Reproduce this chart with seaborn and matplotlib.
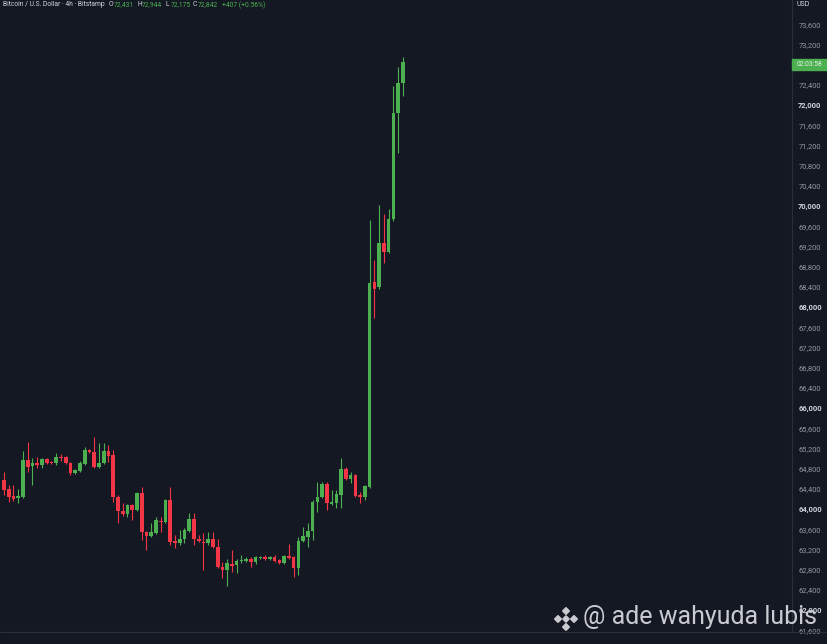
import numpy as np
import pandas as pd
import seaborn as sns
import matplotlib.pyplot as plt
from matplotlib.patches import Polygon, Rectangle

# 4h BTC/USD candles (open, high, low, close)
opens = [64574, 64396, 64257, 64218, 64238, 64970, 64851, 64911, 64871, 64990,
         64931, 64911, 65030, 65030, 64911, 64713, 64752, 64891, 65168, 65129,
         64832, 64911, 65148, 65069, 64238, 63960, 63901, 64079, 63980, 64317,
         63545, 63465, 63525, 63762, 63743, 64178, 63366, 63327, 63406, 63564,
         63802, 63406, 63347, 63327, 63406, 63248, 62852, 62792, 62911, 62891,
         62970, 62970, 63010, 62951, 63030, 63050, 63010, 63050, 62990, 62931,
         63069, 63050, 62832, 63366, 63446, 63564, 64139, 64238, 64495, 64099,
         64119, 64277, 64792, 64594, 64673, 64277, 64238, 64436, 68495, 68396,
         69267, 69089, 69742, 71841, 72431]
highs = [64733, 64475, 64475, 64396, 65148, 65327, 65010, 65030, 65010, 65010,
         64960, 65109, 65089, 65050, 64930, 64790, 64950, 65228, 65180, 65426,
         65307, 65307, 65267, 65168, 64277, 64119, 64100, 64100, 64337, 64436,
         63560, 63723, 63842, 63842, 64200, 64436, 63485, 63584, 63624, 63921,
         63921, 63485, 63525, 63545, 63545, 63406, 62951, 63010, 63188, 63010,
         63089, 63050, 63050, 63069, 63070, 63089, 63070, 63089, 63010, 63089,
         63307, 63069, 63446, 63644, 63723, 64178, 64535, 64535, 64535, 64376,
         64376, 65010, 64832, 64733, 64690, 64337, 64475, 69722, 68930, 70019,
         69841, 69940, 72375, 72752, 72944]
lows = [64277, 64139, 64158, 64119, 64220, 64733, 64475, 64812, 64812, 64891,
        64890, 64871, 64950, 64890, 64673, 64690, 64733, 64871, 65110, 64812,
        64820, 64900, 64931, 64139, 63723, 63861, 63842, 63782, 63970, 63386,
        63188, 63450, 63510, 63545, 63730, 63287, 63228, 63287, 63327, 63545,
        63287, 63347, 62792, 63287, 63230, 62830, 62634, 62475, 62753, 62733,
        62931, 62950, 62852, 62911, 63010, 62990, 62990, 62951, 62911, 62911,
        63010, 62654, 62693, 63350, 63248, 63386, 63941, 64218, 63980, 64079,
        64020, 64020, 64574, 64515, 64238, 64119, 64178, 64416, 67782, 68356,
        68871, 69069, 69702, 71049, 72175]
closes = [64376, 64238, 64198, 64257, 64970, 64832, 64911, 64871, 64990, 64911,
          64911, 65030, 65010, 64911, 64713, 64772, 64911, 65168, 65129, 64832,
          64911, 65148, 65049, 64238, 63960, 63901, 64079, 63980, 64317, 63545,
          63465, 63545, 63782, 63743, 64178, 63347, 63327, 63406, 63584, 63802,
          63406, 63366, 63327, 63406, 63248, 62852, 62792, 62931, 62871, 62970,
          62990, 63010, 62951, 63050, 63050, 63010, 63050, 62970, 62931, 63069,
          63030, 62832, 63366, 63465, 63564, 64139, 64238, 64495, 64119, 64139,
          64297, 64792, 64594, 64673, 64257, 64238, 64455, 68475, 68356, 69267,
          69089, 69742, 71841, 72431, 72842]

# 72,800 sits under the last-price tag, so it is not shown
price_ticks = [p for p in range(61600, 73601, 400) if p != 72800]
major_ticks = [62000, 64000, 66000, 68000, 70000, 72000]

df = pd.DataFrame({'open': opens, 'high': highs, 'low': lows, 'close': closes})
df['idx'] = np.arange(len(df))
df['up'] = df['close'] >= df['open']

BG = '#141823'
GREEN = '#4caf50'
RED = '#f23645'

sns.set_theme(style='dark', rc={'axes.facecolor': BG, 'figure.facecolor': BG})
plt.rcParams['font.family'] = ['Roboto', 'DejaVu Sans']

fig = plt.figure(figsize=(8.28, 6.44), dpi=100)
ax = fig.add_axes([0, 12 / 644, 792 / 828, 632 / 644])
ax.set_facecolor(BG)

colors = np.where(df['up'], GREEN, RED)
# wicks
ax.vlines(df['idx'], df['low'], df['high'], colors=colors, linewidth=0.8)
# bodies
bottoms = df[['open', 'close']].min(axis=1)
heights = (df['close'] - df['open']).abs().clip(lower=20)
ax.bar(df['idx'], heights, bottom=bottoms, width=0.74, color=colors, linewidth=0)

ax.set_xlim(-0.842, 165.9)
ax.set_ylim(61565, 74078)
ax.set_xticks([])
ax.yaxis.tick_right()
ax.set_yticks(price_ticks)
ax.set_yticklabels([f'{p:,}' for p in price_ticks])
ax.tick_params(axis='y', length=0, pad=4.5, labelsize=5.4, colors='#9598a1')
for lab, p in zip(ax.get_yticklabels(), price_ticks):
    if p in major_ticks:
        lab.set_fontweight('bold')
        lab.set_color('#d1d4dc')
for side in ['top', 'left', 'bottom']:
    ax.spines[side].set_visible(False)
ax.spines['right'].set_color('#2a2e39')
ax.spines['right'].set_linewidth(0.8)
ax.grid(False)

# bottom separator line
fig.add_artist(plt.Line2D([0, 1], [12 / 644, 12 / 644], color='#2a2e39', linewidth=0.8))

# header
def fx(px):
    return px / 828

def fy(py):
    return 1 - py / 644

hdr = dict(fontsize=4.9, va='center', ha='left')
fig.text(fx(3), fy(5), 'Bitcoin / U.S. Dollar · 4h · Bitstamp', color='#d1d4dc', **hdr)
parts = [(109, 'O', '72,431'), (137, 'H', '72,944'), (166, 'L', '72,175'), (193, 'C', '72,842')]
for px, letter, val in parts:
    fig.text(fx(px), fy(5), letter, color='#d1d4dc', **hdr)
    fig.text(fx(px + 4.5), fy(5), val, color=GREEN, **hdr)
fig.text(fx(222), fy(5), '+407 (+0.56%)', color=GREEN, **hdr)

# USD label
fig.text(fx(797), fy(4), 'USD', color='#d1d4dc', fontsize=5, va='center', ha='left')

# last price tag
fig.add_artist(Rectangle((fx(792), fy(69.5)), fx(36), 11 / 644, color=GREEN, transform=fig.transFigure))
fig.text(fx(810), fy(64), '02:03:58', color='#e8f5e9', fontsize=4.8, va='center', ha='center')

# watermark: logo + handle
cx, cy = 566, 619
wm = '#c9cbd1'
def diamond(x, y, r):
    return [(fx(x), fy(y - r)), (fx(x + r), fy(y)), (fx(x), fy(y + r)), (fx(x - r), fy(y))]
fig.add_artist(Polygon(diamond(cx, cy, 3.2), closed=True, color=wm, transform=fig.transFigure))
for dx, dy in [(-8, 0), (8, 0), (0, -8), (0, 8)]:
    fig.add_artist(Polygon(diamond(cx + dx, cy + dy, 3.4), closed=True, color=wm, transform=fig.transFigure))
fig.text(fx(583), fy(617), '@ ade wahyuda lubis', color=wm, fontsize=18, va='center', ha='left')

fig.savefig('out.png', dpi=100, facecolor=BG)
